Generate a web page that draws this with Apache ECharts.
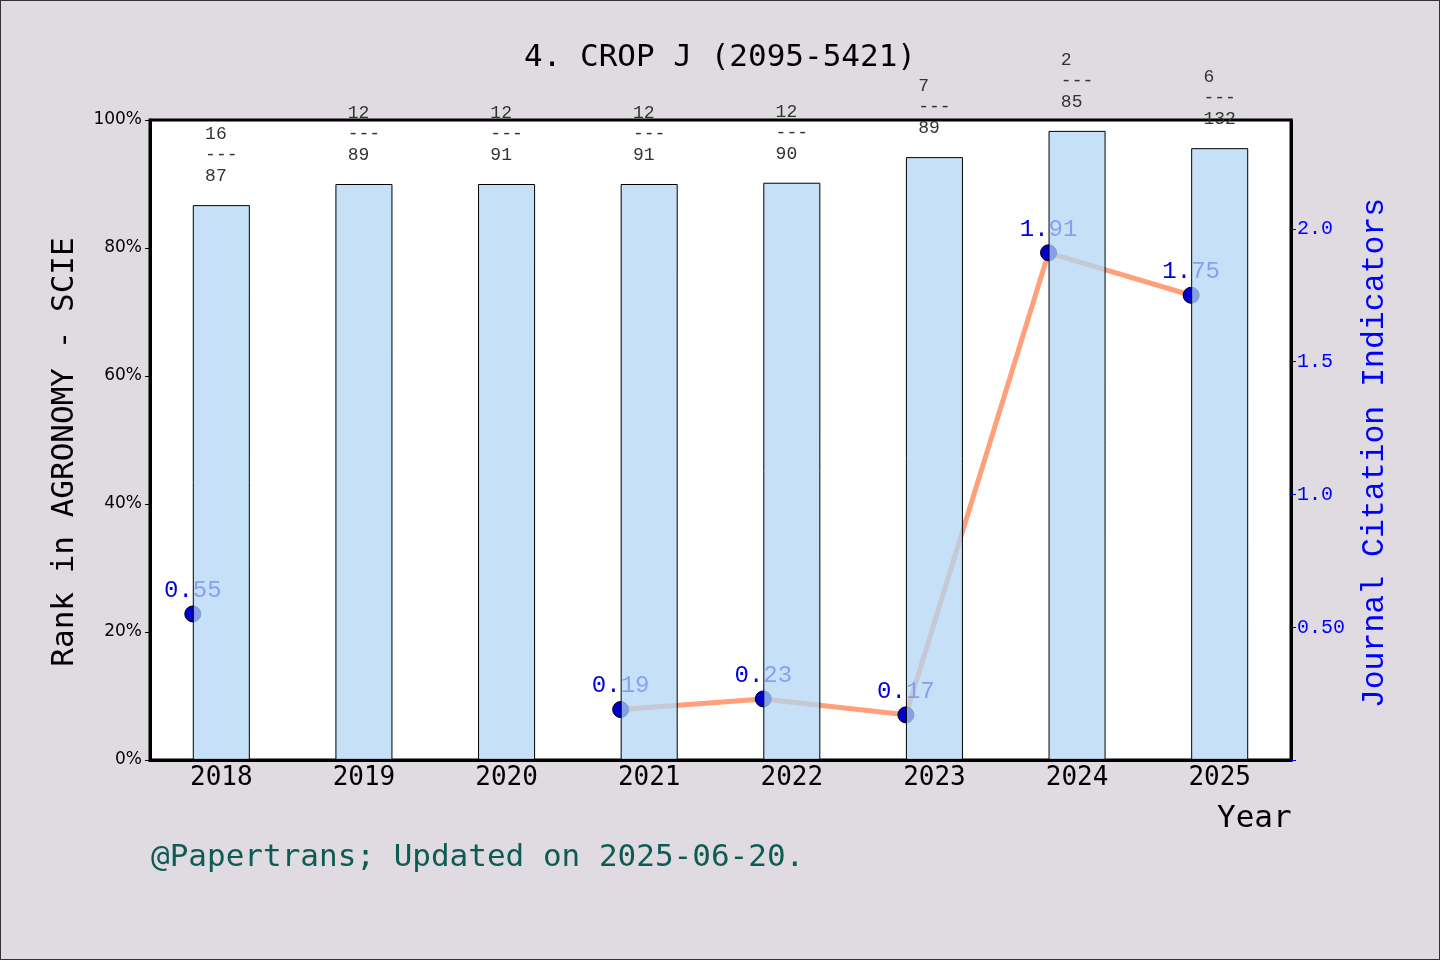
<!DOCTYPE html>
<html>
<head>
<meta charset="utf-8">
<script src="https://cdn.jsdelivr.net/npm/echarts@6/dist/echarts.min.js"></script>
<style>
  html, body { margin: 0; padding: 0; background: #dfdbe1; }
  #chart { width: 1440px; height: 960px; box-sizing: border-box; border: 1px solid #333; }
</style>
</head>
<body>
<div id="chart"></div>
<script>
const years = ["2018", "2019", "2020", "2021", "2022", "2023", "2024", "2025"]
const rankPercent = [86.7, 90.0, 90.0, 90.0, 90.2, 94.2, 98.3, 95.6]
const ranks = [16, 12, 12, 12, 12, 7, 2, 6]
const totals = [87, 89, 91, 91, 90, 89, 85, 132]
const jciValues = [0.55, null, null, 0.19, 0.23, 0.17, 1.91, 1.75]
const leftTicks = [0, 20, 40, 60, 80, 100]
const rightTicks = [0, 0.5, 1.0, 1.5, 2.0]
const rightTickLabels = ["", "0.50", "1.0", "1.5", "2.0"]

// line points sit on the left edge of each bar (half a bar width)
const lineShift = -0.2

const chart = echarts.init(document.getElementById("chart"))

const monoCJK = "'DejaVu Sans Mono', monospace"
const monoSans = "'Liberation Mono', monospace"

// rank / total stacked, lines left aligned inside a centred block
const rankLabel = (i) => {
  const w = Math.max(String(ranks[i]).length, String(totals[i]).length, 3)
  return [String(ranks[i]), "---", String(totals[i])].map((s) => s.padEnd(w, " ")).join("\n")
}

const option = {
  backgroundColor: "#dfdbe1",
  animation: false,
  title: [
    {
      text: "4. CROP J (2095-5421)",
      left: "center",
      top: 36,
      textStyle: { fontFamily: monoCJK, fontSize: 31, fontWeight: "normal", color: "#000" },
    },
    {
      text: "@Papertrans; Updated on 2025-06-20.",
      left: 145,
      top: 836,
      textStyle: { fontFamily: monoCJK, fontSize: 31, fontWeight: "normal", color: "#0e5b55" },
    },
  ],
  grid: {
    left: 149,
    right: 148,
    top: 119,
    bottom: 199,
    show: true,
    backgroundColor: "#fff",
    borderColor: "#000",
    borderWidth: 3,
  },
  xAxis: [
    {
      type: "category",
      data: years,
      name: "Year",
      nameLocation: "end",
      nameGap: -74,
      nameTextStyle: {
        fontFamily: monoCJK,
        fontSize: 31,
        color: "#000",
        verticalAlign: "top",
        padding: [43, 0, 0, 0],
      },
      axisLine: { onZero: false, lineStyle: { color: "#000", width: 3 } },
      axisTick: { inside: true, length: 5, lineStyle: { color: "#000" } },
      axisLabel: { fontFamily: monoCJK, fontSize: 26, color: "#000", margin: 5 },
    },
    {
      type: "value",
      min: -0.5,
      max: years.length - 0.5,
      show: false,
    },
  ],
  yAxis: [
    {
      type: "value",
      min: 0,
      max: 100,
      interval: 20,
      name: "Rank in AGRONOMY - SCIE",
      nameLocation: "middle",
      nameRotate: 90,
      nameGap: 70,
      nameTextStyle: { fontFamily: monoCJK, fontSize: 31, color: "#000", padding: [0, 24, 0, 0] },
      axisLine: { show: true, onZero: false, lineStyle: { color: "#000", width: 3 } },
      axisTick: { show: true, length: 5, lineStyle: { color: "#000" }, customValues: leftTicks },
      axisLabel: {
        fontFamily: "'DejaVu Sans', sans-serif",
        fontSize: 17,
        color: "#000",
        margin: 8,
        formatter: "{value}%",
        customValues: leftTicks,
      },
      splitLine: { show: false },
    },
    {
      type: "value",
      min: 0,
      max: 2.41,
      position: "right",
      name: "Journal Citation Indicators",
      nameLocation: "middle",
      nameRotate: 90,
      nameGap: 68,
      nameTextStyle: { fontFamily: monoSans, fontSize: 31.5, color: "#0000ff", padding: [0, 26, 0, 0] },
      axisLine: { show: true, onZero: false, lineStyle: { color: "#000", width: 3 } },
      axisTick: { show: true, length: 5, lineStyle: { color: "#0000ff" }, customValues: rightTicks },
      axisLabel: {
        fontFamily: monoSans,
        fontSize: 20,
        color: "#0000ff",
        margin: 6,
        customValues: rightTicks,
        formatter: (v) => rightTickLabels[rightTicks.indexOf(v)] ?? "",
      },
      splitLine: { show: false },
    },
  ],
  series: [
    {
      name: "JCI",
      type: "line",
      xAxisIndex: 1,
      yAxisIndex: 1,
      z: 2,
      data: jciValues.map((v, i) => [i + lineShift, v == null ? "-" : v]),
      connectNulls: false,
      lineStyle: { color: "#ffa07a", width: 5 },
      symbol: "circle",
      symbolSize: 16,
      itemStyle: { color: "#0000cd", borderColor: "#000", borderWidth: 1 },
      label: {
        show: true,
        position: "top",
        distance: 3,
        fontFamily: monoSans,
        fontSize: 24,
        color: "#0000dd",
        formatter: (p) => p.value[1].toFixed(2),
      },
    },
    {
      name: "Rank",
      type: "bar",
      xAxisIndex: 0,
      yAxisIndex: 0,
      z: 3,
      data: rankPercent,
      barWidth: "40%",
      itemStyle: {
        color: "rgba(177, 213, 244, 0.75)",
        borderColor: "#000",
        borderWidth: 1,
      },
      label: {
        show: true,
        position: "top",
        distance: 18,
        fontFamily: monoSans,
        fontSize: 18,
        lineHeight: 21,
        color: "#333",
        formatter: (p) => rankLabel(p.dataIndex),
      },
    },
  ],
}

chart.setOption(option)
</script>
</body>
</html>
